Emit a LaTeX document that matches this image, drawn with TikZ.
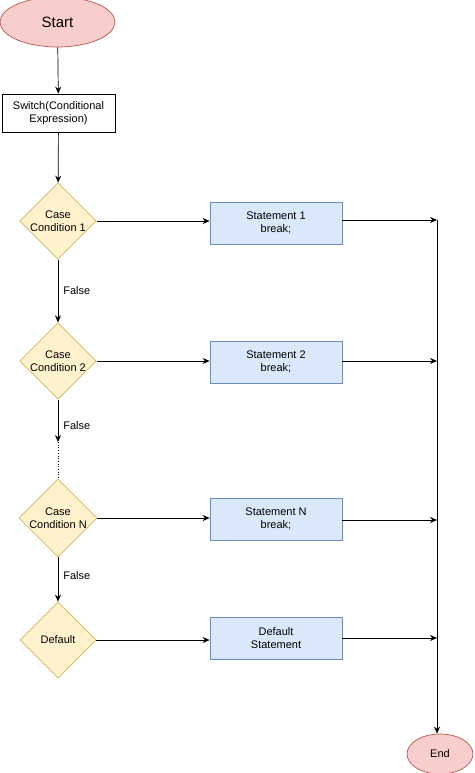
\documentclass[tikz,border=0pt]{standalone}
\usepackage{fontspec}
\setmainfont{Liberation Sans}
\usetikzlibrary{arrows.meta,shapes.geometric}
\definecolor{termfill}{HTML}{F8CECC}
\definecolor{termdraw}{HTML}{B85450}
\definecolor{casefill}{HTML}{FFF2CC}
\definecolor{casedraw}{HTML}{D6B656}
\definecolor{stmtfill}{HTML}{DAE8FC}
\definecolor{stmtdraw}{HTML}{6C8EBF}
\tikzset{
	terminal/.style={ellipse, draw=termdraw, fill=termfill, inner sep=0pt},
	switchbox/.style={rectangle, draw=black, fill=white, minimum width=113pt, minimum height=38pt, align=center, inner sep=0pt},
	casebox/.style={diamond, draw=casedraw, fill=casefill, minimum width=76pt, minimum height=76pt, inner sep=0pt, align=center},
	stmtbox/.style={rectangle, draw=stmtdraw, fill=stmtfill, minimum width=132pt, minimum height=42pt, align=center, inner sep=0pt},
	flow/.style={-{Stealth[length=7pt,width=6pt]}, line width=0.7pt},
	lbl/.style={anchor=west, inner sep=0pt}
}

\begin{document}
\begin{tikzpicture}[x=1pt, y=-1pt, font=\fontsize{11}{13}\selectfont, line width=0.7pt]
		\useasboundingbox (0, 0) rectangle (474, 773);
		\node[terminal, minimum width=115pt, minimum height=50pt, font=\fontsize{15}{17}\selectfont] (start) at (57.5, 22) {Start};
		\node[switchbox] (switch) at (58.5, 113) {Switch(Conditional\\Expression)};
		\node[casebox] (c1) at (58, 221) {Case\\Condition 1};
		\node[casebox] (c2) at (58, 361) {Case\\Condition 2};
		\node[casebox] (cN) at (58, 518) {Case\\Condition N};
		\node[casebox] (dflt) at (58, 640) {Default};
		\node[stmtbox] (s1) at (276, 223) {Statement 1\\break;};
		\node[stmtbox] (s2) at (276, 362) {Statement 2\\break;};
		\node[stmtbox] (sN) at (276, 519) {Statement N\\break;};
		\node[stmtbox] (sD) at (276, 638) {Default\\Statement};
		\node[terminal, minimum width=66pt, minimum height=40pt] (stop) at (440, 754) {End};
		\coordinate (j1) at (437, 220);
		\coordinate (j2) at (437, 361);
		\coordinate (jN) at (437, 520);
		\coordinate (jD) at (437, 638);
		\coordinate (gap) at (58, 442);
		% down the cases
		\draw[flow] (start) -- (switch);
		\draw[flow] (switch) -- (c1);
		\draw[flow] (c1) -- (c2) node[midway, lbl, xshift=5pt] {False};
		\draw[flow] (c2) -- (gap) node[pos=0.62, lbl, xshift=5pt] {False};
		\draw[dotted] (gap) -- (cN);
		\draw[flow] (cN) -- (dflt) node[pos=0.42, lbl, xshift=5pt] {False};
		% cases to statements
		\draw[flow] (c1) -- (s1.west |- c1);
		\draw[flow] (c2) -- (s2.west |- c2);
		\draw[flow] (cN) -- (sN.west |- cN);
		\draw[flow] (dflt) -- (sD.west |- dflt);
		% statements to end
		\draw[flow] (s1.east |- j1) -- (j1);
		\draw[flow] (s2.east |- j2) -- (j2);
		\draw[flow] (sN.east |- jN) -- (jN);
		\draw[flow] (sD.east |- jD) -- (jD);
		\draw[flow] (j1) -- (j1 |- stop.north);
	\end{tikzpicture}
\end{document}
